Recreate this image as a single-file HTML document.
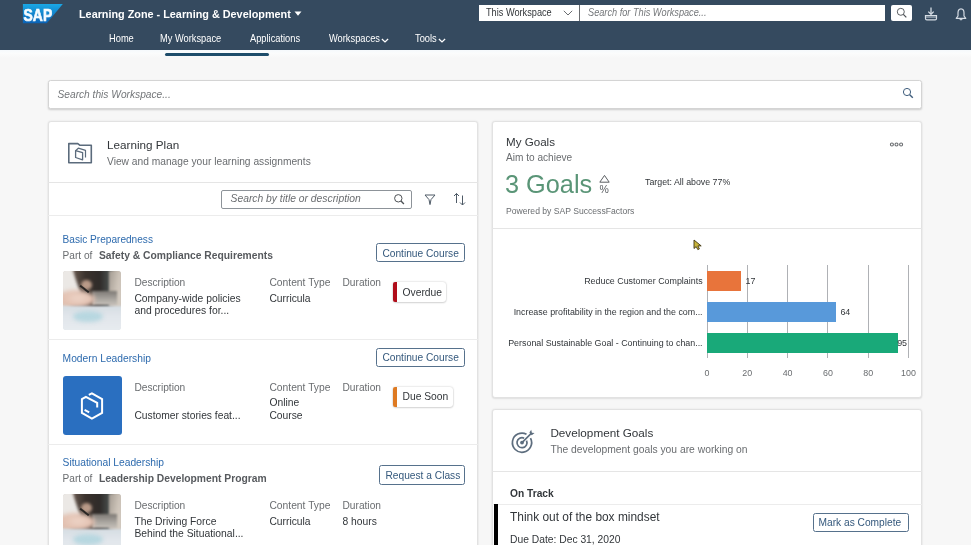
<!DOCTYPE html>
<html><head><meta charset="utf-8"><title>Learning Zone</title>
<style>
*{box-sizing:border-box;margin:0;padding:0}
html,body{width:971px;height:545px;overflow:hidden;background:#f7f7f7;font-family:"Liberation Sans",sans-serif}
.t{position:absolute;line-height:1;white-space:nowrap}
.r{position:absolute}
</style></head><body><div id="root" style="position:absolute;left:0;top:0;width:971px;height:545px;will-change:transform">
<div class="r" style="left:0px;top:0px;width:971px;height:50px;background:#354a5f"></div>
<div class="r" style="left:0px;top:50px;width:971px;height:8px;background:linear-gradient(180deg,#f5f9fc 0%,#fbfcfc 40%,#f7f7f7 100%)"></div>
<svg class="r" style="left:22px;top:4px" width="42" height="20" viewBox="0 0 42 20"><defs><linearGradient id="lg" x1="0" y1="0" x2="0" y2="1"><stop offset="0" stop-color="#1aa8e6"/><stop offset="1" stop-color="#0a62b6"/></linearGradient></defs><polygon points="0.9,0 40.8,0 24.8,19.3 0.9,19.3" fill="url(#lg)"/><text x="1.6" y="16.6" font-family="Liberation Sans" font-weight="bold" font-size="16.5" fill="#f4fbff" stroke="#f4fbff" stroke-width="0.7" textLength="28.6" lengthAdjust="spacingAndGlyphs">SAP</text></svg>
<div class="t" style="left:79px;top:9.00px;font-size:10.84px;color:#ffffff;font-weight:bold;font-style:normal;">Learning Zone - Learning &amp; Development</div>
<svg class="r" style="left:294px;top:11px" width="8" height="6" viewBox="0 0 8 6"><polygon points="0.5,0.5 7.5,0.5 4,4.8" fill="#fff"/></svg>
<div class="t" style="left:108.5px;top:34.00px;font-size:10.2px;color:#ffffff;font-weight:normal;font-style:normal;transform:scaleX(0.912);transform-origin:0 0">Home</div>
<div class="t" style="left:160.4px;top:34.00px;font-size:10.2px;color:#ffffff;font-weight:normal;font-style:normal;transform:scaleX(0.912);transform-origin:0 0">My Workspace</div>
<div class="t" style="left:249.6px;top:34.00px;font-size:10.2px;color:#ffffff;font-weight:normal;font-style:normal;transform:scaleX(0.912);transform-origin:0 0">Applications</div>
<div class="t" style="left:328.5px;top:34.00px;font-size:10.2px;color:#ffffff;font-weight:normal;font-style:normal;transform:scaleX(0.912);transform-origin:0 0">Workspaces</div>
<div class="t" style="left:415px;top:34.00px;font-size:10.2px;color:#ffffff;font-weight:normal;font-style:normal;transform:scaleX(0.912);transform-origin:0 0">Tools</div>
<svg class="r" style="left:381px;top:38px" width="8" height="5" viewBox="0 0 8 5"><polyline points="0.9,1 4,3.9 7.1,1" fill="none" stroke="#fff" stroke-width="1.3"/></svg>
<svg class="r" style="left:438px;top:38px" width="8" height="5" viewBox="0 0 8 5"><polyline points="0.9,1 4,3.9 7.1,1" fill="none" stroke="#fff" stroke-width="1.3"/></svg>
<div class="r" style="left:165px;top:53px;width:104px;height:3px;background:#1e4d6b;border-radius:1.5px"></div>
<div class="r" style="left:479px;top:5px;width:100px;height:16px;background:#fff"></div>
<div class="t" style="left:485.5px;top:8.00px;font-size:10.2px;color:#32363a;font-weight:normal;font-style:normal;transform:scaleX(0.902);transform-origin:0 0">This Workspace</div>
<svg class="r" style="left:563px;top:10px" width="10" height="6" viewBox="0 0 10 6"><polyline points="0.8,0.8 5,5 9.2,0.8" fill="none" stroke="#6a6d70" stroke-width="1"/></svg>
<div class="r" style="left:579px;top:5px;width:1px;height:16px;background:#6a6d70"></div>
<div class="r" style="left:580px;top:5px;width:305px;height:16px;background:#fff"></div>
<div class="t" style="left:588px;top:8.00px;font-size:10.2px;color:#74777a;font-weight:normal;font-style:italic;transform:scaleX(0.902);transform-origin:0 0">Search for This Workspace...</div>
<div class="r" style="left:891px;top:5px;width:21px;height:16px;background:#fff;border-radius:2px"></div>
<svg class="r" style="left:896px;top:7px" width="12" height="12" viewBox="0 0 12 12"><circle cx="4.8" cy="4.8" r="3.5" fill="none" stroke="#4a4e52" stroke-width="0.9"/><line x1="7.3" y1="7.3" x2="10.3" y2="10.3" stroke="#4a4e52" stroke-width="1.2"/></svg>
<svg class="r" style="left:924px;top:7px" width="15" height="14" viewBox="0 0 15 14"><line x1="7" y1="0.5" x2="7" y2="7" stroke="#d5dce4" stroke-width="1.3"/><polyline points="4.3,4.6 7,7.3 9.7,4.6" fill="none" stroke="#d5dce4" stroke-width="1.3"/><path d="M1.5,8.5 L1.5,11.5 Q1.5,12.8 2.8,12.8 L11.2,12.8 Q12.5,12.8 12.5,11.5 L12.5,8.5 Z" fill="none" stroke="#d5dce4" stroke-width="1.2"/><line x1="1.5" y1="10" x2="12.5" y2="10" stroke="#d5dce4" stroke-width="0.9"/></svg>
<svg class="r" style="left:955px;top:8px" width="12" height="13" viewBox="0 0 12 13"><path d="M6,0.8 C3.6,0.8 3,3 3,5 L3,8 L1.2,10.3 L10.8,10.3 L9,8 L9,5 C9,3 8.4,0.8 6,0.8 Z" fill="none" stroke="#d5dce4" stroke-width="1.2" stroke-linejoin="round"/><path d="M4.8,11 Q6,12.6 7.2,11" fill="none" stroke="#d5dce4" stroke-width="1.2"/></svg>
<div class="r" style="left:48px;top:80px;width:874px;height:29px;background:#fff;border-radius:2.5px;border:1px solid #d4d4d4;box-shadow:0 1px 2px rgba(0,0,0,.18)"></div>
<div class="t" style="left:57.5px;top:90.00px;font-size:10.2px;color:#74777a;font-weight:normal;font-style:italic;">Search this Workspace...</div>
<svg class="r" style="left:902px;top:87px" width="13" height="13" viewBox="0 0 13 13"><circle cx="5" cy="5" r="3.6" fill="none" stroke="#3f5d7c" stroke-width="1"/><line x1="7.7" y1="7.7" x2="10.8" y2="10.8" stroke="#3f5d7c" stroke-width="1.4"/></svg>
<div class="r" style="left:48px;top:121px;width:430px;height:460px;background:#fff;border-radius:3px;border:1px solid #e2e2e2;box-shadow:0 0 2px rgba(0,0,0,.10),0 1px 2px rgba(0,0,0,.08)"></div>
<svg class="r" style="left:64px;top:138px" width="32" height="30" viewBox="0 0 32 30"><path d="M4.8,24.8 L4.8,5.6 L13.8,5.6 L16,7.3 L27.3,7.3 L27.3,24.8 Z" fill="none" stroke="#5b6b7c" stroke-width="1.6" stroke-linejoin="round"/><path d="M11.6,12.7 L18.6,14.6 L18.6,21.8 L11.6,19.5 Z" fill="none" stroke="#5b6b7c" stroke-width="1.3" stroke-linejoin="round"/><path d="M11.6,12.7 L14.3,10.2 L21.5,12.3 L21.5,19.5" fill="none" stroke="#5b6b7c" stroke-width="1.2" stroke-linejoin="round"/></svg>
<div class="t" style="left:107px;top:139.00px;font-size:11.7px;color:#32363a;font-weight:normal;font-style:normal;">Learning Plan</div>
<div class="t" style="left:107px;top:157.00px;font-size:10.23px;color:#6a6d70;font-weight:normal;font-style:normal;">View and manage your learning assignments</div>
<div class="r" style="left:48px;top:182px;width:430px;height:1px;background:#e5e5e5"></div>
<div class="r" style="left:221px;top:190px;width:191px;height:19px;background:#fff;border:1px solid #8d9399;border-radius:2px"></div>
<div class="t" style="left:230.5px;top:194.00px;font-size:10.34px;color:#6a6d70;font-weight:normal;font-style:italic;">Search by title or description</div>
<svg class="r" style="left:393px;top:193px" width="13" height="13" viewBox="0 0 13 13"><circle cx="5.3" cy="5.3" r="3.7" fill="none" stroke="#4e5256" stroke-width="1"/><line x1="8" y1="8" x2="10.9" y2="10.9" stroke="#4e5256" stroke-width="1.4"/></svg>
<svg class="r" style="left:423px;top:192px" width="14" height="14" viewBox="0 0 14 14"><path d="M2,3 L12,3 L8,7.6 L7,12.6 L6,7.6 Z" fill="none" stroke="#4e5a66" stroke-width="1" stroke-linejoin="round"/></svg>
<svg class="r" style="left:452px;top:191px" width="16" height="16" viewBox="0 0 16 16"><line x1="4.5" y1="2.5" x2="4.5" y2="12" stroke="#4e5a66" stroke-width="1"/><polyline points="2,5 4.5,2.5 7,5" fill="none" stroke="#4e5a66" stroke-width="1"/><line x1="10.5" y1="4.5" x2="10.5" y2="14" stroke="#4e5a66" stroke-width="1"/><polyline points="8,11.5 10.5,14 13,11.5" fill="none" stroke="#4e5a66" stroke-width="1"/></svg>
<div class="r" style="left:48px;top:215px;width:430px;height:1px;background:#ececec"></div>
<div class="t" style="left:62.6px;top:235.00px;font-size:10.1px;color:#2e6bae;font-weight:normal;font-style:normal;">Basic Preparedness</div>
<div class="t" style="left:62.6px;top:251.00px;font-size:10.1px;color:#6a6d70;font-weight:normal;font-style:normal;">Part of</div>
<div class="t" style="left:99px;top:251.00px;font-size:10.3px;color:#575a5e;font-weight:bold;font-style:normal;">Safety &amp; Compliance Requirements</div>
<div class="r" style="left:376px;top:243px;width:89px;height:19px;background:#fff;border:1px solid #56718c;border-radius:2.5px"></div>
<div class="t" style="left:382.4px;top:249.00px;font-size:10.2px;color:#34587c;font-weight:normal;font-style:normal;">Continue Course</div>
<div class="r" style="left:63px;top:271px;width:58px;height:59px;border-radius:3px;overflow:hidden;background:#e3e7eb">
<div class="r" style="left:-3px;top:-3px;width:64px;height:40px;filter:blur(1.3px);background:linear-gradient(90deg,#e2ddd8 0%,#d9d0c8 14%,#5e5048 24%,#3a322d 40%,#2f2b29 62%,#474c4b 76%,#b3aaa0 86%,#d3cac0 100%)"></div>
<div class="r" style="left:46px;top:0px;width:12px;height:36px;filter:blur(1px);background:linear-gradient(100deg,#a39b92,#cdc4b9 60%,#d9d1c7)"></div>
<div class="r" style="left:29px;top:20px;width:25px;height:14px;filter:blur(1.2px);background:linear-gradient(180deg,#7d7974,#a8a49e 55%,#c6c1ba)"></div>
<div class="r" style="left:-4px;top:-4px;width:17px;height:30px;filter:blur(1.5px);background:#ebe8e5;transform:rotate(-20deg)"></div>
<div class="r" style="left:18px;top:9px;width:11px;height:10px;filter:blur(1.5px);border-radius:50%;background:#b99a88"></div>
<div class="r" style="left:-6px;top:19px;width:38px;height:18px;filter:blur(2px);border-radius:50%;background:radial-gradient(ellipse at 55% 45%,#eed5c8 0%,#e2c0b0 55%,#d2ae9c 85%)"></div>
<div class="r" style="left:16px;top:17px;width:11px;height:1.8px;background:#2a2624;transform:rotate(38deg);filter:blur(.5px)"></div>
<div class="r" style="left:-2px;top:35px;width:62px;height:26px;filter:blur(1px);background:linear-gradient(180deg,#d6dde3 0%,#e1e6eb 40%,#e8ecf0 100%)"></div>
<div class="r" style="left:10px;top:40px;width:30px;height:11px;filter:blur(2.2px);border-radius:50%;background:#b7d7e0"></div>
</div>
<div class="t" style="left:134.4px;top:278.00px;font-size:10.18px;color:#6a6d70;font-weight:normal;font-style:normal;">Description</div>
<div class="t" style="left:134.4px;top:294.00px;font-size:10.33px;color:#32363a;font-weight:normal;font-style:normal;">Company-wide policies</div>
<div class="t" style="left:134.4px;top:306.00px;font-size:10.33px;color:#32363a;font-weight:normal;font-style:normal;">and procedures for...</div>
<div class="t" style="left:269.4px;top:278.00px;font-size:10.3px;color:#6a6d70;font-weight:normal;font-style:normal;">Content Type</div>
<div class="t" style="left:269.4px;top:294.00px;font-size:10.3px;color:#32363a;font-weight:normal;font-style:normal;">Curricula</div>
<div class="t" style="left:342.5px;top:278.00px;font-size:10.19px;color:#6a6d70;font-weight:normal;font-style:normal;">Duration</div>
<div class="r" style="left:393px;top:282px;width:53px;height:20px;background:#fff;border-radius:3px;box-shadow:0 0 2px rgba(0,0,0,.25),0 1px 2px rgba(0,0,0,.12)"></div>
<div class="r" style="left:393px;top:282px;width:3.5px;height:20px;background:#b00d1a;border-radius:2px 0 0 2px"></div>
<div class="t" style="left:402.5px;top:288.00px;font-size:10.3px;color:#32363a;font-weight:normal;font-style:normal;">Overdue</div>
<div class="r" style="left:48px;top:339px;width:430px;height:1px;background:#ececec"></div>
<div class="t" style="left:62.6px;top:354.00px;font-size:10.26px;color:#2e6bae;font-weight:normal;font-style:normal;">Modern Leadership</div>
<div class="r" style="left:376px;top:348px;width:89px;height:19px;background:#fff;border:1px solid #56718c;border-radius:2.5px"></div>
<div class="t" style="left:382.4px;top:353.00px;font-size:10.2px;color:#34587c;font-weight:normal;font-style:normal;">Continue Course</div>
<div class="r" style="left:63px;top:375.8px;width:59px;height:59px;border-radius:3px;background:#2a6fc0"></div>
<svg class="r" style="left:76px;top:388px" width="32" height="36" viewBox="0 0 32 36"><path d="M12.8,6.9 L15.9,5.4 L26.1,11.2 L26.1,24.8 L15.9,30.6 L5.9,24.8 L5.9,11.2 L9.9,8.9 L21.2,14.8 L21.2,19.4" fill="none" stroke="#fff" stroke-width="2" stroke-linejoin="miter"/><path d="M8.6,21.9 L13.2,24.3" fill="none" stroke="#fff" stroke-width="2"/></svg>
<div class="t" style="left:134.4px;top:383.00px;font-size:10.18px;color:#6a6d70;font-weight:normal;font-style:normal;">Description</div>
<div class="t" style="left:134.4px;top:411.00px;font-size:10.27px;color:#32363a;font-weight:normal;font-style:normal;">Customer stories feat...</div>
<div class="t" style="left:269.4px;top:383.00px;font-size:10.3px;color:#6a6d70;font-weight:normal;font-style:normal;">Content Type</div>
<div class="t" style="left:269.4px;top:398.00px;font-size:10.3px;color:#32363a;font-weight:normal;font-style:normal;">Online</div>
<div class="t" style="left:269.4px;top:411.00px;font-size:10.3px;color:#32363a;font-weight:normal;font-style:normal;">Course</div>
<div class="t" style="left:342.5px;top:383.00px;font-size:10.19px;color:#6a6d70;font-weight:normal;font-style:normal;">Duration</div>
<div class="r" style="left:393px;top:387px;width:59.5px;height:20px;background:#fff;border-radius:3px;box-shadow:0 0 2px rgba(0,0,0,.25),0 1px 2px rgba(0,0,0,.12)"></div>
<div class="r" style="left:393px;top:387px;width:3.5px;height:20px;background:#de7a22;border-radius:2px 0 0 2px"></div>
<div class="t" style="left:402.5px;top:392.00px;font-size:10.3px;color:#32363a;font-weight:normal;font-style:normal;">Due Soon</div>
<div class="r" style="left:48px;top:444px;width:430px;height:1px;background:#ececec"></div>
<div class="t" style="left:62.6px;top:458.00px;font-size:10.25px;color:#2e6bae;font-weight:normal;font-style:normal;">Situational Leadership</div>
<div class="t" style="left:62.6px;top:474.00px;font-size:10.1px;color:#6a6d70;font-weight:normal;font-style:normal;">Part of</div>
<div class="t" style="left:99px;top:474.00px;font-size:10.31px;color:#575a5e;font-weight:bold;font-style:normal;">Leadership Development Program</div>
<div class="r" style="left:379.3px;top:465px;width:86px;height:20px;background:#fff;border:1px solid #56718c;border-radius:2.5px"></div>
<div class="t" style="left:385.5px;top:471.00px;font-size:10.2px;color:#34587c;font-weight:normal;font-style:normal;">Request a Class</div>
<div class="r" style="left:63px;top:494px;width:58px;height:59px;border-radius:3px;overflow:hidden;background:#e3e7eb">
<div class="r" style="left:-3px;top:-3px;width:64px;height:40px;filter:blur(1.3px);background:linear-gradient(90deg,#e2ddd8 0%,#d9d0c8 14%,#5e5048 24%,#3a322d 40%,#2f2b29 62%,#474c4b 76%,#b3aaa0 86%,#d3cac0 100%)"></div>
<div class="r" style="left:46px;top:0px;width:12px;height:36px;filter:blur(1px);background:linear-gradient(100deg,#a39b92,#cdc4b9 60%,#d9d1c7)"></div>
<div class="r" style="left:29px;top:20px;width:25px;height:14px;filter:blur(1.2px);background:linear-gradient(180deg,#7d7974,#a8a49e 55%,#c6c1ba)"></div>
<div class="r" style="left:-4px;top:-4px;width:17px;height:30px;filter:blur(1.5px);background:#ebe8e5;transform:rotate(-20deg)"></div>
<div class="r" style="left:18px;top:9px;width:11px;height:10px;filter:blur(1.5px);border-radius:50%;background:#b99a88"></div>
<div class="r" style="left:-6px;top:19px;width:38px;height:18px;filter:blur(2px);border-radius:50%;background:radial-gradient(ellipse at 55% 45%,#eed5c8 0%,#e2c0b0 55%,#d2ae9c 85%)"></div>
<div class="r" style="left:16px;top:17px;width:11px;height:1.8px;background:#2a2624;transform:rotate(38deg);filter:blur(.5px)"></div>
<div class="r" style="left:-2px;top:35px;width:62px;height:26px;filter:blur(1px);background:linear-gradient(180deg,#d6dde3 0%,#e1e6eb 40%,#e8ecf0 100%)"></div>
<div class="r" style="left:10px;top:40px;width:30px;height:11px;filter:blur(2.2px);border-radius:50%;background:#b7d7e0"></div>
</div>
<div class="t" style="left:134.4px;top:501.00px;font-size:10.18px;color:#6a6d70;font-weight:normal;font-style:normal;">Description</div>
<div class="t" style="left:134.4px;top:517.00px;font-size:10.33px;color:#32363a;font-weight:normal;font-style:normal;">The Driving Force</div>
<div class="t" style="left:134.4px;top:529.00px;font-size:10.33px;color:#32363a;font-weight:normal;font-style:normal;">Behind the Situational...</div>
<div class="t" style="left:269.4px;top:501.00px;font-size:10.3px;color:#6a6d70;font-weight:normal;font-style:normal;">Content Type</div>
<div class="t" style="left:269.4px;top:517.00px;font-size:10.3px;color:#32363a;font-weight:normal;font-style:normal;">Curricula</div>
<div class="t" style="left:342.5px;top:501.00px;font-size:10.19px;color:#6a6d70;font-weight:normal;font-style:normal;">Duration</div>
<div class="t" style="left:342.5px;top:517.00px;font-size:10.3px;color:#32363a;font-weight:normal;font-style:normal;">8 hours</div>
<div class="r" style="left:492px;top:121px;width:430px;height:277px;background:#fff;border-radius:3px;border:1px solid #e2e2e2;box-shadow:0 0 2px rgba(0,0,0,.10),0 1px 2px rgba(0,0,0,.08)"></div>
<div class="t" style="left:506px;top:136.00px;font-size:11.6px;color:#32363a;font-weight:normal;font-style:normal;">My Goals</div>
<div class="t" style="left:506px;top:153.00px;font-size:10.11px;color:#6a6d70;font-weight:normal;font-style:normal;">Aim to achieve</div>
<div class="t" style="left:505px;top:172.00px;font-size:25.3px;color:#5a9577;font-weight:normal;font-style:normal;">3 Goals</div>
<svg class="r" style="left:598px;top:172px" width="13" height="11" viewBox="0 0 13 11"><polygon points="6.5,3.4 11.2,10.2 1.8,10.2" fill="none" stroke="#5a5e62" stroke-width="1"/></svg>
<div class="t" style="left:599.5px;top:184.00px;font-size:10.5px;color:#5a5e62;font-weight:normal;font-style:normal;">%</div>
<div class="t" style="left:645px;top:178.00px;font-size:8.82px;color:#32363a;font-weight:normal;font-style:normal;">Target: All above 77%</div>
<div class="t" style="left:506px;top:207.00px;font-size:8.6px;color:#6a6d70;font-weight:normal;font-style:normal;">Powered by SAP SuccessFactors</div>
<svg class="r" style="left:889px;top:141px" width="15" height="6" viewBox="0 0 15 6"><circle cx="2.9" cy="3.5" r="1.5" fill="none" stroke="#6a6d70" stroke-width="1.1"/><circle cx="7.5" cy="3.5" r="1.5" fill="none" stroke="#6a6d70" stroke-width="1.1"/><circle cx="12.1" cy="3.5" r="1.5" fill="none" stroke="#6a6d70" stroke-width="1.1"/></svg>
<div class="r" style="left:492px;top:228px;width:430px;height:1px;background:#e5e5e5"></div>
<div class="r" style="left:706.5px;top:265px;width:1px;height:93px;background:#afb1b5"></div>
<div class="r" style="left:746.8px;top:265px;width:1px;height:93px;background:#afb1b5"></div>
<div class="r" style="left:787.1px;top:265px;width:1px;height:93px;background:#afb1b5"></div>
<div class="r" style="left:827.4px;top:265px;width:1px;height:93px;background:#afb1b5"></div>
<div class="r" style="left:867.7px;top:265px;width:1px;height:93px;background:#afb1b5"></div>
<div class="r" style="left:908.0px;top:265px;width:1px;height:93px;background:#afb1b5"></div>
<div class="r" style="left:707px;top:271px;width:34.3px;height:19.5px;background:#e8743b"></div>
<div class="r" style="left:707px;top:302px;width:129.0px;height:19.5px;background:#5899da"></div>
<div class="r" style="left:707px;top:333px;width:191.4px;height:19.5px;background:#19a979"></div>
<div class="t" style="left:745.6px;top:277.00px;font-size:8.9px;color:#32363a;font-weight:normal;font-style:normal;">17</div>
<div class="t" style="left:840.4px;top:308.00px;font-size:8.9px;color:#32363a;font-weight:normal;font-style:normal;">64</div>
<div class="t" style="left:897.2px;top:339.00px;font-size:8.9px;color:#32363a;font-weight:normal;font-style:normal;">95</div>
<div class="t" style="left:677px;width:60px;text-align:center;top:368.94px;font-size:8.9px;color:#6a6d70">0</div>
<div class="t" style="left:717.3px;width:60px;text-align:center;top:368.94px;font-size:8.9px;color:#6a6d70">20</div>
<div class="t" style="left:757.6px;width:60px;text-align:center;top:368.94px;font-size:8.9px;color:#6a6d70">40</div>
<div class="t" style="left:797.9px;width:60px;text-align:center;top:368.94px;font-size:8.9px;color:#6a6d70">60</div>
<div class="t" style="left:838.2px;width:60px;text-align:center;top:368.94px;font-size:8.9px;color:#6a6d70">80</div>
<div class="t" style="left:878.5px;width:60px;text-align:center;top:368.94px;font-size:8.9px;color:#6a6d70">100</div>
<div class="t" style="left:450px;width:252.6px;text-align:right;top:277px;font-size:8.9px;color:#32363a">Reduce Customer Complaints</div>
<div class="t" style="left:450px;width:252.6px;text-align:right;top:308px;font-size:8.9px;color:#32363a">Increase profitability in the region and the com...</div>
<div class="t" style="left:450px;width:252.6px;text-align:right;top:339px;font-size:8.9px;color:#32363a">Personal Sustainable Goal - Continuing to chan...</div>
<svg class="r" style="left:692.5px;top:239px" width="10" height="12" viewBox="0 0 10 12"><path d="M1,1 L1,9.5 L3.2,7.6 L4.8,10.6 L6.4,9.9 L4.9,6.9 L8.2,6.9 Z" fill="#c8b43a" stroke="#3e3412" stroke-width="0.9" stroke-linejoin="round"/></svg>
<div class="r" style="left:492px;top:409px;width:430px;height:200px;background:#fff;border-radius:3px;border:1px solid #e2e2e2;box-shadow:0 0 2px rgba(0,0,0,.10),0 1px 2px rgba(0,0,0,.08)"></div>
<svg class="r" style="left:506px;top:424px" width="34" height="34" viewBox="0 0 34 34"><path d="M24.48,14.2 A9.6,9.6 0 1 1 20.5,10.22" fill="none" stroke="#5d6d7e" stroke-width="1.7"/><path d="M20.53,16.59 A5,5 0 1 1 18.11,14.17" fill="none" stroke="#5d6d7e" stroke-width="1.7"/><circle cx="16" cy="18.6" r="1.9" fill="#5d6d7e"/><line x1="16" y1="18.6" x2="25.5" y2="9.1" stroke="#5d6d7e" stroke-width="1.6"/><path d="M23.4,8.6 L25.2,5.8 L25.9,8.7 L28.6,8.9 L25.7,11.2 Z" fill="#5d6d7e"/></svg>
<div class="t" style="left:550.4px;top:427.00px;font-size:11.72px;color:#32363a;font-weight:normal;font-style:normal;">Development Goals</div>
<div class="t" style="left:550.4px;top:445.00px;font-size:10.32px;color:#6a6d70;font-weight:normal;font-style:normal;">The development goals you are working on</div>
<div class="r" style="left:492px;top:471px;width:430px;height:1px;background:#e5e5e5"></div>
<div class="t" style="left:510px;top:489.00px;font-size:10.21px;color:#32363a;font-weight:bold;font-style:normal;">On Track</div>
<div class="r" style="left:492px;top:503.5px;width:430px;height:1px;background:#ececec"></div>
<div class="r" style="left:493.5px;top:504px;width:4px;height:60px;background:#000"></div>
<div class="t" style="left:510px;top:512.00px;font-size:11.92px;color:#32363a;font-weight:normal;font-style:normal;">Think out of the box mindset</div>
<div class="t" style="left:510px;top:535.00px;font-size:10.3px;color:#32363a;font-weight:normal;font-style:normal;">Due Date: Dec 31, 2020</div>
<div class="r" style="left:813px;top:512.6px;width:95.5px;height:19px;background:#fff;border:1px solid #56718c;border-radius:2.5px"></div>
<div class="t" style="left:818.5px;top:518.00px;font-size:10.2px;color:#34587c;font-weight:normal;font-style:normal;">Mark as Complete</div>
</div></body></html>
